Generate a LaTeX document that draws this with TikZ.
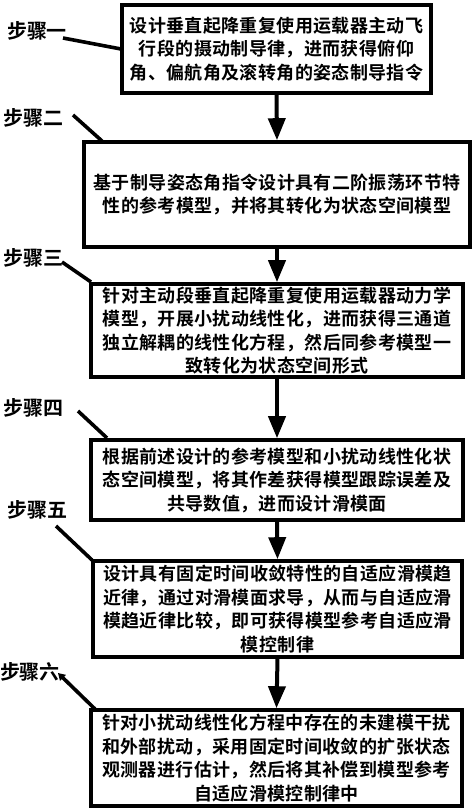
\documentclass[tikz,border=0pt]{standalone}
\usepackage{fontspec}
\setmainfont{Noto Sans CJK SC Bold}[LetterSpace=2]
\newfontfamily\labelfont{Noto Sans CJK SC Bold}
\usetikzlibrary{arrows.meta}
\begin{document}
\begin{tikzpicture}[x=1pt,y=-1pt,
  stepbox/.style={draw=black,line width=3.6pt,fill=white,align=center,inner sep=0pt,
    font=\fontsize{18}{23.5}\selectfont},
  steplabel/.style={inner sep=0pt,font=\labelfont\fontsize{20}{24}\selectfont},
  flow/.style={line width=4pt,-{Triangle[length=22pt,width=17pt]}},
  pointer/.style={line width=3.6pt}]
\useasboundingbox (0,0) rectangle (474,812);
\fill[white] (0,0) rectangle (474,812);
% boxes
\node[stepbox,minimum width=309pt,minimum height=88pt] (b1) at (276.5,49)
  {设计垂直起降重复使用运载器主动飞\\行段的摄动制导律，进而获得俯仰\\角、偏航角及滚转角的姿态制导指令};
\node[stepbox,minimum width=386pt,minimum height=105pt] (b2) at (277,194.5)
  {基于制导姿态角指令设计具有二阶振荡环节特\\性的参考模型，并将其转化为状态空间模型};
\node[stepbox,minimum width=372pt,minimum height=93pt] (b3) at (277,330.5)
  {针对主动段垂直起降重复使用运载器动力学\\模型，开展小扰动线性化，进而获得三通道\\独立解耦的线性化方程，然后同参考模型一\\致转化为状态空间形式};
\node[stepbox,minimum width=372pt,minimum height=80pt] (b4) at (277,480)
  {根据前述设计的参考模型和小扰动线性化状\\态空间模型，将其作差获得模型跟踪误差及\\共导数值，进而设计滑模面};
\node[stepbox,minimum width=369pt,minimum height=96pt] (b5) at (277.5,609)
  {设计具有固定时间收敛特性的自适应滑模趋\\近律，通过对滑模面求导，从而与自适应滑\\模趋近律比较，即可获得模型参考自适应滑\\模控制律};
\node[stepbox,minimum width=371pt,minimum height=96pt] (b6) at (276.5,758)
  {针对小扰动线性化方程中存在的未建模干扰\\和外部扰动，采用固定时间收敛的扩张状态\\观测器进行估计，然后将其补偿到模型参考\\自适应滑模控制律中};
% flow arrows
\draw[flow] (b1.south) -- (b2.north);
\draw[flow] (b2.south) -- (b3.north);
\draw[flow] (b3.south) -- (b4.north);
\draw[flow] (b4.south) -- (b5.north);
\draw[flow] (b5.south) -- (b6.north);
% step labels
\node[steplabel] (l1) at (37,31) {步骤一};
\node[steplabel] (l2) at (34,118) {步骤二};
\node[steplabel] (l3) at (33,258) {步骤三};
\node[steplabel] (l4) at (33,408) {步骤四};
\node[steplabel] (l5) at (38,510) {步骤五};
\node[steplabel] (l6) at (30,672) {步骤六};
% pointer ends
\coordinate (p1a) at (63,38);   \coordinate (p1b) at (121,49);
\coordinate (p2a) at (73,115);  \coordinate (p2b) at (102,141);
\coordinate (p3a) at (62,262);  \coordinate (p3b) at (91,282);
\coordinate (p4a) at (78,411);  \coordinate (p4b) at (107,438);
\coordinate (p5a) at (56,526);  \coordinate (p5b) at (92,560);
\coordinate (p6a) at (58,673);  \coordinate (p6b) at (95,709);
\draw[pointer] (p1a) -- (p1b);
\draw[pointer] (p2a) -- (p2b);
\draw[pointer] (p3a) -- (p3b);
\draw[pointer] (p4a) -- (p4b);
\draw[pointer] (p5a) -- (p5b);
\draw[pointer,{Triangle[length=7pt,width=8pt]}-] (p6a) -- (p6b);
\end{tikzpicture}
\end{document}
